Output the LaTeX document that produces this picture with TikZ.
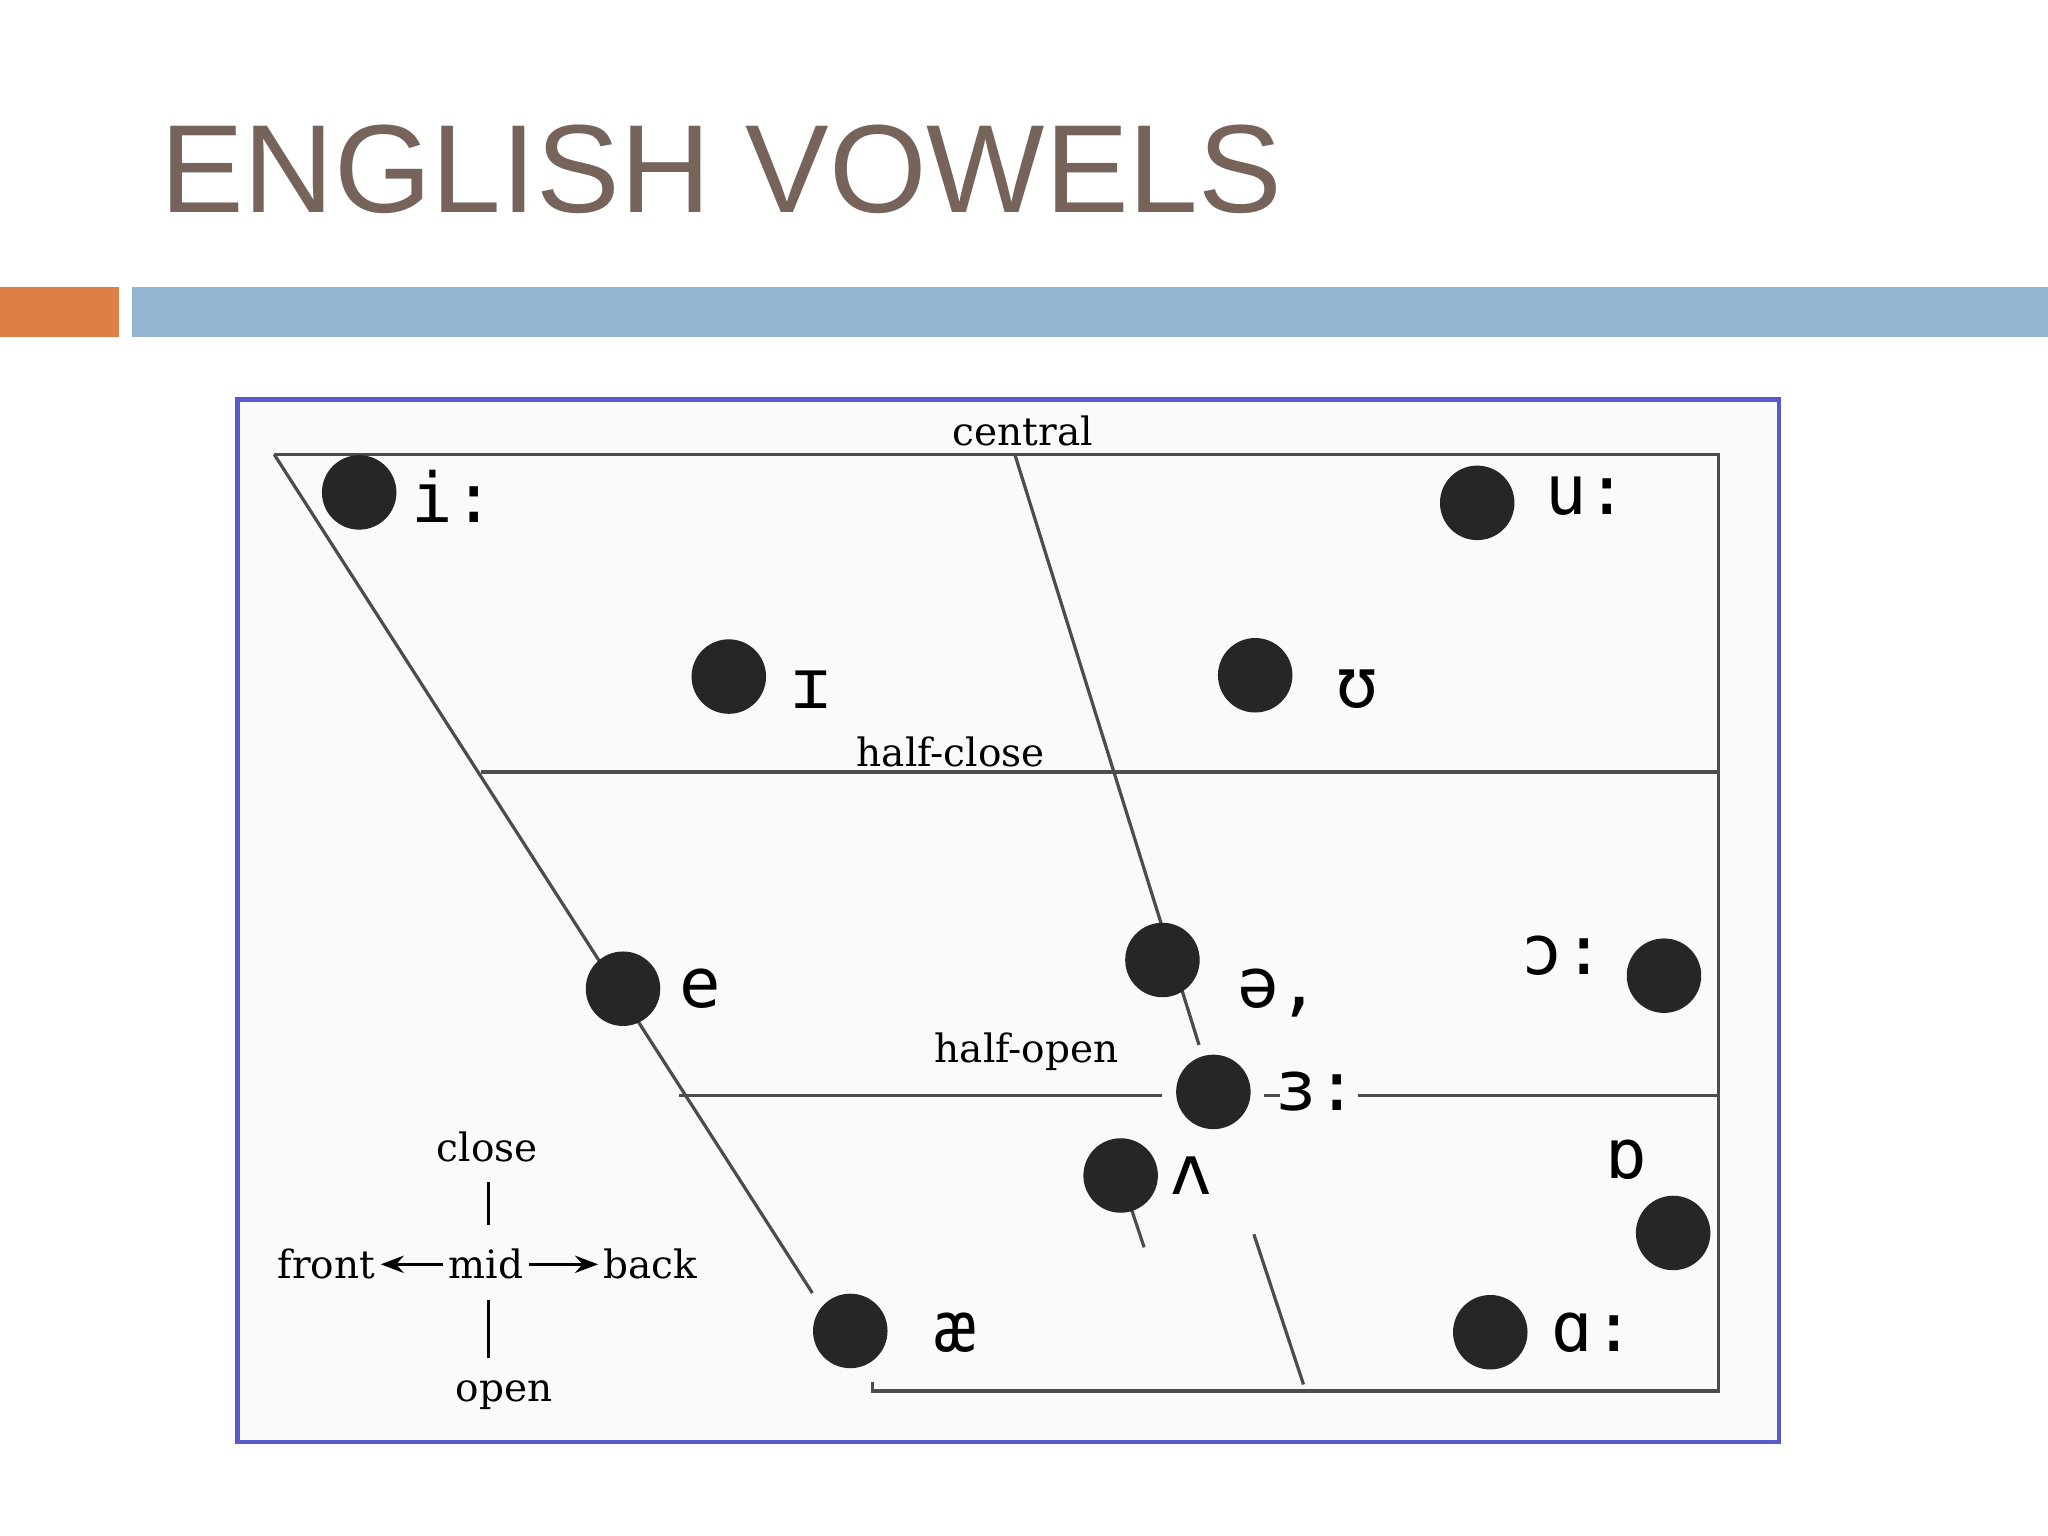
\documentclass[tikz,border=0pt]{standalone}
\usepackage{fontspec}
\setmainfont{DejaVu Serif}
\newfontfamily\titlefont{Liberation Sans}
\newfontfamily\ipafont{DejaVu Sans Mono}
\usetikzlibrary{arrows.meta}
\definecolor{titlec}{HTML}{76635A}
\definecolor{orangebar}{HTML}{DD8047}
\definecolor{bluebar}{HTML}{94B6D2}
\definecolor{framec}{HTML}{5A5ACF}
\tikzset{
 dot/.style={circle,fill=black!85,minimum size=0.57cm,inner sep=0pt},
 ipa/.style={font=\ipafont\fontsize{15pt}{15pt}\selectfont,inner sep=0pt},
 lbl/.style={font=\fontsize{8.5pt}{9pt}\selectfont,inner sep=1pt},
 chart/.style={draw=black!70,line width=0.7pt}
}
\begin{document}
\begin{tikzpicture}[x=0.01cm,y=-0.01cm]
\useasboundingbox (0,0) rectangle (1568,1176);
\node[anchor=base west,inner sep=0,text=titlec,font=\titlefont\fontsize{27.3pt}{28pt}\selectfont] (title) at (122,163) {ENGLISH VOWELS};
\fill[orangebar] (0,220) rectangle (91,258);
\fill[bluebar] (101,220) rectangle (1568,258);
\draw[framec,line width=1pt,fill=black!2] (182,306) rectangle (1362,1104);
% chart lines
\coordinate (tl) at (210,348); \coordinate (tr) at (1316,348);
\coordinate (br) at (1316,1065); \coordinate (bl) at (668,1065);
\coordinate (ld) at (622,990);
\draw[chart] (tl) -- (tr) -- (br) -- (bl) -- (668,1058);
\draw[chart] (tl) -- (ld);
\draw[chart] (368,591) -- (1316,591);
\draw[chart] (520,839) -- (890,839);
\draw[chart] (1040,839) -- (1316,839);
\draw[chart] (777,348) -- (918,800);
\draw[chart] (960,945) -- (998,1060);
\draw[chart] (866,925) -- (876,955);
\draw[chart] (968,839) -- (980,839);
% dots
\node[dot] (i) at (275,377) {};
\node[dot] (u) at (1131,385) {};
\node[dot] (I) at (558,518) {};
\node[dot] (U) at (961,517) {};
\node[dot] (e) at (477,757) {};
\node[dot] (schwa) at (890,735) {};
\node[dot] (oo) at (1274,747) {};
\node[dot] (er) at (929,836) {};
\node[dot] (V) at (858,900) {};
\node[dot] (o) at (1281,944) {};
\node[dot] (ae) at (651,1019) {};
\node[dot] (aa) at (1141,1020) {};
% ipa labels
\node[ipa] at (347,380) {i:};
\node[ipa] at (1215,380) {u:};
\node[ipa] at (621,528) {ɪ};
\node[ipa] at (1039,528) {ʊ};
\node[ipa] at (536,757) {e};
\node[ipa] at (979,760) {ə,};
\node[ipa] at (1197,732) {ɔ:};
\node[ipa] at (1008,836) {ɜ:};
\node[ipa] at (912,900) {ʌ};
\node[ipa] at (1245,888) {ɒ};
\node[ipa] at (731,1020) {æ};
\node[ipa] at (1220,1020) {ɑ:};
% text labels
\node[lbl] (central) at (783,330) {central};
\node[lbl] (hc) at (728,576) {half-close};
\node[lbl] (ho) at (786,805) {half-open};
\node[lbl] (close) at (373,878) {close};
\node[lbl] (front) at (250,968) {front};
\node[lbl] (mid) at (372,968) {mid};
\node[lbl] (back) at (498,968) {back};
\node[lbl] (open) at (386,1068) {open};
\draw[-{Stealth[length=5pt]},line width=0.7pt] (mid.west) -- (front.east);
\draw[-{Stealth[length=5pt]},line width=0.7pt] (mid.east) -- (back.west);
\draw[line width=0.8pt] (374,905) -- (374,938);
\draw[line width=0.8pt] (374,995) -- (374,1040);
\end{tikzpicture}
\end{document}
